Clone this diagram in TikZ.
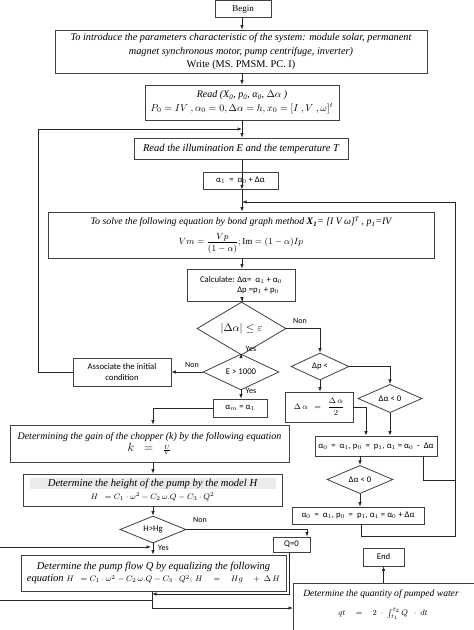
\documentclass[tikz,border=0pt]{standalone}
\usepackage{amsmath}
\usepackage{fontspec}
\setmainfont{Liberation Serif}
\newfontfamily\sansf{Carlito}
\usetikzlibrary{shapes.geometric,arrows.meta}
\begin{document}
\begin{tikzpicture}[x=1pt,y=-1pt,
  lc/.style={draw=black!85, line width=0.7pt},
  box/.style={rectangle, draw=black!75, line width=0.8pt, inner sep=1pt, align=center},
  dia/.style={diamond, draw=black!75, line width=0.8pt, inner sep=0pt, align=center},
  ser/.style={font=\fontsize{#1}{13.5}\selectfont\itshape},
  ser/.default=10,
  sans/.style={font=\fontsize{8.7}{11}\selectfont\sansf},
  lab/.style={font=\fontsize{8}{9}\selectfont\sansf, inner sep=0pt},
  arr/.style={lc, -{Latex[length=4.5pt,width=3.5pt]}},
  ln/.style={lc}
]
\useasboundingbox (0,0) rectangle (474,630);

% main column
\node[box, minimum width=56, minimum height=17, font=\fontsize{9}{11}\selectfont] (begin) at (243,9) {Begin};
\node[box, ser=10.3, minimum width=372, minimum height=43] (intro) at (241,51.5)
  {To introduce the parameters characteristic of the system: module solar, permanent\\
   magnet synchronous motor, pump centrifuge, inverter)\\
   \upshape Write (MS. PMSM. PC. I)};
\node[box, ser=10, minimum width=194, minimum height=35] (read) at (242,102.5)
  {Read (X\textsubscript{0}, p\textsubscript{0}, α\textsubscript{0}, $\Delta\alpha$ )\\
   \upshape $P_0 = IV\ ,\alpha_0 = 0, \Delta\alpha = h, x_0 = [I\ ,V\ ,\omega]^t$};
\node[box, ser=10.5, minimum width=214, minimum height=21] (illum) at (241,148.5)
  {Read the illumination E and the temperature T};
\node[box, sans, minimum width=75, minimum height=17] (a1) at (240.5,180.5)
  {α$_1$ \ = \ α$_0$ + Δα};
\node[box, ser=9.8, minimum width=386, minimum height=46] (solve) at (241,235)
  {To solve the following equation by bond graph method \textbf{X\textsubscript{1}}= [I V ω]\textsuperscript{T} , p\textsubscript{1}=IV\\[5pt]
   \upshape\fontsize{9}{10}\selectfont $Vm = \dfrac{Vp}{(1-\alpha)}; \mathrm{Im} = (1-\alpha)Ip$};
\node[box, sans, minimum width=108, minimum height=32] (calc) at (241,285)
  {\begin{tabular}{@{}l@{ }l@{}}Calculate: & Δα= \ α$_1$ + α$_0$\\[-1pt] & Δp =p$_1$ + p$_0$\end{tabular}};
\node[dia, minimum width=89, minimum height=31, font=\fontsize{10.5}{12}\selectfont] (d1) at (241.5,328.5)
  {$|\Delta\alpha|\le\varepsilon$};
\node[dia, sans, minimum width=76, minimum height=28] (d2) at (241,372) {E > 1000};
\node[box, sans, minimum width=98, minimum height=28] (assoc) at (122,372)
  {Associate the initial\\condition};
\node[box, sans, minimum width=54, minimum height=18] (am) at (240,408) {α$_m$ = α$_1$};
\node[box, ser=10, minimum width=279, minimum height=37] (gain) at (149.5,443.5)
  {Determining the gain of the chopper (k) by the following equation\\[-1pt]
   \upshape\fontsize{13}{14}\selectfont $k\ \ =\ \ {\scriptscriptstyle\frac{U}{V}}$};
\fill[black!8] (30,478) rectangle (276,489);
\node[box, ser=10.6, minimum width=259, minimum height=32] (height) at (152.5,490)
  {Determine the height of the pump by the model H\\[-1pt]
   \upshape\fontsize{8.5}{10}\selectfont $H\ \ = C_1\cdot\omega^2 - C_2\,\omega.Q - C_3\cdot Q^2$};
\node[dia, sans, minimum width=66, minimum height=27] (d3) at (153,529.5) {H>Hg};
\node[box, sans, minimum width=37, minimum height=15] (q0) at (291.5,544.5) {Q=0};
\node[box, ser=10.5, minimum width=265, minimum height=36] (flow) at (153.5,573)
  {Determine the pump flow Q by equalizing the following\\[-1pt]
   equation \upshape\fontsize{8.5}{10}\selectfont $H\ \ = C_1\cdot\omega^2 - C_2\,\omega.Q - C_3\cdot Q^2;\,H\quad=\quad Hg\quad+\ \Delta\,H$};
\node[box, minimum width=185, minimum height=57, anchor=north west] (quant) at (293,583) {};
\node[ser=9.6, inner sep=0pt] (qt1) at (381,594) {Determine the quantity of pumped water};
\node[inner sep=0pt, font=\fontsize{8}{10}\selectfont] (qt2) at (383,614)
  {$qt\quad=\quad 2\ \cdot\ \int_{t_1}^{t_2} Q\ \ \cdot\ dt$};
\node[box, sans, minimum width=41, minimum height=18] (end) at (383.5,557) {End};

% right branch
\node[dia, sans, minimum width=58, minimum height=27] (dp) at (320,366.5) {Δp <};
\node[dia, sans, minimum width=64, minimum height=27] (da1) at (390,398.5) {Δα < 0};
\node[box, minimum width=68, minimum height=30, font=\fontsize{8.5}{10}\selectfont] (half) at (319,407)
  {$\Delta\,\alpha\ \ =\ \ \dfrac{\Delta\,\alpha}{2}$};
\node[box, sans, minimum width=122, minimum height=20] (minus) at (376,446)
  {α$_0$ \ = \ α$_1$, p$_0$ \ = \ p$_1$, α$_1$ = α$_0$ \ - \ Δα};
\node[dia, sans, minimum width=66, minimum height=27] (da2) at (360,479.5) {Δα < 0};
\node[box, sans, minimum width=132, minimum height=17] (plus) at (358,515.5)
  {α$_0$ \ = \ α$_1$, p$_0$ \ = \ p$_1$, α$_1$ = α$_0$ + Δα};

% labels
\node[lab] (l1) at (300,321) {Non};
\node[lab, anchor=west] (l2) at (245.5,348.5) {Yes};
\node[lab] (l3) at (192,365) {Non};
\node[lab, anchor=west] (l4) at (245.5,391) {Yes};
\node[lab] (l5) at (200,519.5) {Non};
\node[lab, anchor=west] (l6) at (158,548) {Yes};

% connectors main column
\draw[arr] (begin.south -| 242,0) -- (intro.north -| 242,0);
\draw[arr] (intro.south -| 242,0) -- (read.north -| 242,0);
\draw[arr] (read.south -| 242,0) -- (illum.north -| 242,0);
\draw[arr] (illum.south -| 242,0) -- (a1.south -| 242,172);
\draw[arr] (a1.south -| 242,0) -- (solve.north -| 242,0);
\draw[arr] (solve.south -| 242,0) -- (calc.north -| 242,0);
\draw[arr] (calc.south -| 242,0) -- (d1.north -| 242,0);
\draw[arr] (d1.south -| 241,0) -- (d2.north -| 241,0);
\draw[arr] (d2.south -| 241,0) -- (am.north -| 241,0);
\draw[arr] (d1.east) -| (dp.north);
\draw[arr] (d2.west) -- (assoc.east);
\coordinate (topjoin) at (242,129);
\draw[arr] (assoc.west) -| (38,129) -- (topjoin);
\draw[arr] (am.west) -| (gain.north -| 153,0);
\draw[arr] (gain.south -| 153,0) -- (height.north -| 153,0);
\draw[arr] (height.south -| 153,0) -- (d3.north);
\draw[arr] (d3.east) -| (q0.north -| 307,0);
\draw[arr] (d3.south) -- (flow.north -| 153,0);
\coordinate (leftA) at (0,547);
\coordinate (midA) at (151,547);
\draw[arr] (leftA) -- (midA);
\coordinate (qjoin) at (152,594);
\draw[arr] (q0.south -| 289,0) |- (qjoin);
\draw[arr] (flow.south -| 152,0) |- (quant.west |- 0,608);
\coordinate (leftB) at (0,600);
\coordinate (midB) at (152,600);
\draw[ln] (leftB) -- (midB);
\draw[arr] (quant.north -| end.south) -- (end.south);

% right branch connectors
\draw[arr] (dp.east) -| (da1.north);
\draw[arr] (dp.south) -- (half.north -| dp.south);
\draw[arr] (half.east |- 0,407) -| (minus.north -| 366,0);
\draw[arr] (da1.south) -- (minus.north -| da1.south);
\draw[arr] (minus.south -| 360,0) -- (da2.north);
\draw[ln] (minus.south -| 423,0) |- (455,480);
\draw[arr] (da2.south) -- (plus.north -| da2.south);
\coordinate (rjoin) at (242,202);
\draw[arr] (plus.south -| 361,0) |- (455,536) |- (rjoin);
\end{tikzpicture}
\end{document}
